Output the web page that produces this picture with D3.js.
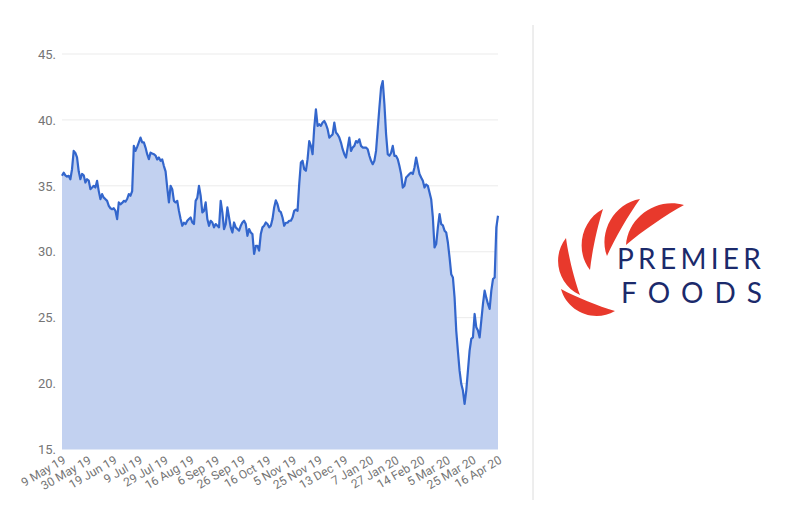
<!DOCTYPE html>
<html>
<head>
<meta charset="utf-8">
<script src="https://cdn.jsdelivr.net/npm/d3@7"></script>
<style>
  body { margin: 0; background: #fff; }
  svg { display: block; font-family: Roboto, "Noto Sans", sans-serif; }
</style>
</head>
<body>
<div class="container"></div>
<script>
// tick labels along the bottom (every 14th trading day)
var tickLabels = ["9 May 19", "30 May 19", "19 Jun 19", "9 Jul 19", "29 Jul 19", "16 Aug 19",
  "6 Sep 19", "26 Sep 19", "16 Oct 19", "5 Nov 19", "25 Nov 19", "13 Dec 19",
  "7 Jan 20", "27 Jan 20", "14 Feb 20", "5 Mar 20", "25 Mar 20", "16 Apr 20"];

var yTicks = [15, 20, 25, 30, 35, 40, 45];

// share price (pence), May 19 -> Apr 20
var price = [
  35.76, 36.0, 35.8, 35.7, 35.76, 35.5, 36.26, 37.65, 37.5, 37.15, 36.1, 35.5, 35.9, 35.8, 35.25,
  35.5, 35.4, 34.75, 34.87, 35.0, 34.87, 35.38, 34.6, 33.99, 34.37, 34.1, 33.99, 33.86, 33.48,
  33.3, 33.23, 33.3, 33.1, 32.48, 33.74, 33.6, 33.7, 33.86, 33.8, 34.0, 34.37, 34.25, 34.6,
  38.03, 37.65, 37.95, 38.3, 38.66, 38.3, 38.3, 37.9, 37.4, 37.02, 37.52, 37.45, 37.4, 37.3,
  37.0, 37.15, 36.9, 37.0, 36.5, 36.1, 34.87, 33.74, 35.0, 34.75, 33.86,
  33.74, 33.86, 33.1, 32.48, 31.97, 32.2, 32.1, 32.35, 32.48, 32.6, 32.22, 32.1, 33.86, 34.1,
  35.0, 34.25, 32.98, 33.1, 33.74, 32.48, 31.97, 32.35, 32.22, 31.85, 32.1, 31.97, 31.85, 33.86,
  32.98, 31.72, 32.1, 33.36, 32.6, 31.85, 31.46, 32.22, 31.85, 31.72, 31.6, 31.97, 32.22, 32.35,
  32.1, 31.21, 31.72, 31.46, 31.34, 29.83, 30.45, 30.45, 30.08, 31.34, 31.85, 31.97, 32.22, 32.1,
  31.85, 31.97, 32.48, 33.36, 33.9, 33.6,
  33.1, 33.0, 32.6, 31.97, 32.2, 32.2, 32.35, 32.35, 32.6, 33.1, 33.2, 33.1, 35.13, 36.77, 36.9,
  36.26, 36.14, 37.02, 38.4, 38.03, 37.4, 39.42, 40.8, 39.55, 39.67, 39.55, 39.8, 39.92, 39.67,
  39.3, 38.66, 38.78, 38.9, 39.8, 39.04, 38.9, 38.66, 38.28, 37.78, 37.4, 37.15, 37.9, 38.66,
  37.65, 37.9, 38.03, 38.4, 38.28, 38.53, 38.03, 37.9, 37.9, 37.9, 37.78, 37.28, 36.9, 36.64,
  36.9, 37.65, 39.3, 40.94, 42.45, 42.95, 41.2, 38.92, 37.4, 37.28,
  37.5, 38.03, 37.27, 37.27, 37.02, 36.5, 35.9, 34.87, 35.0, 35.63, 35.76, 35.9, 36.0, 35.9,
  36.39, 37.15, 36.5, 35.9, 35.63, 35.38, 34.87, 35.1, 35.0, 34.5, 33.99, 32.6, 30.33, 30.58,
  31.84, 32.86, 32.1, 32.0, 31.6, 31.46, 30.7, 29.57, 28.3, 28.05, 26.54, 24.02, 22.45, 20.98,
  19.98, 19.47, 18.46, 19.47, 20.98, 22.5, 23.39, 23.5, 25.28, 24.27, 24.02, 23.5, 24.77, 26.04,
  27.05, 26.5, 26.04, 25.66, 27.05, 27.93, 28.05, 31.84, 32.73
];

var width = 790;
var height = 527;
var plot = { left: 62, right: 498, top: 54, bottom: 449.5 };

var svg = d3.select("body").select(".container")
    .append("svg")
    .attr("width", width)
    .attr("height", height);

var x = d3.scaleLinear()
    .domain([0, price.length - 1])
    .range([plot.left, plot.right]);

var xTick = d3.scalePoint()
    .domain(tickLabels)
    .range([plot.left, plot.right]);

var y = d3.scaleLinear()
    .domain([15, 45])
    .range([plot.bottom, plot.top]);

// gridlines
svg.append("g")
    .selectAll("line")
    .data(yTicks.slice(1))
    .enter()
    .append("line")
    .attr("x1", plot.left)
    .attr("x2", plot.right)
    .attr("y1", function(d) { return y(d); })
    .attr("y2", function(d) { return y(d); })
    .attr("stroke", "#ebebeb")
    .attr("stroke-width", 1);

var area = d3.area()
    .x(function(d, i) { return x(i); })
    .y0(y(15))
    .y1(function(d) { return y(d); });

var line = d3.line()
    .x(function(d, i) { return x(i); })
    .y(function(d) { return y(d); });

svg.append("path")
    .datum(price)
    .attr("fill", "#c2d1f0")
    .attr("d", area);

svg.append("path")
    .datum(price)
    .attr("fill", "none")
    .attr("stroke", "#3366cc")
    .attr("stroke-width", 2.2)
    .attr("stroke-linejoin", "round")
    .attr("d", line);

// y axis labels
var yAxis = svg.append("g")
    .attr("transform", "translate(" + (plot.left - 6) + ",0)")
    .call(d3.axisLeft(y).tickValues(yTicks).tickSize(0).tickPadding(0)
        .tickFormat(function(d) { return d + "."; }));
yAxis.select(".domain").remove();
yAxis.selectAll("text")
    .attr("fill", "#757575")
    .style("font-size", "13px")
    .style("font-family", "Roboto, sans-serif");

// x axis labels, slanted
var xAxis = svg.append("g")
    .attr("transform", "translate(0," + plot.bottom + ")")
    .call(d3.axisBottom(xTick).tickSize(0));
xAxis.select(".domain").remove();
xAxis.selectAll("text")
    .attr("fill", "#757575")
    .style("font-size", "12px")
    .style("font-family", "Roboto, sans-serif")
    .style("text-anchor", "end")
    .attr("dy", null)
    .attr("y", 0)
    .attr("transform", "translate(4,13) rotate(-30)");

// divider
svg.append("line")
    .attr("x1", 533).attr("x2", 533)
    .attr("y1", 25).attr("y2", 500)
    .attr("stroke", "#dcdcdc")
    .attr("stroke-width", 1);

// logo: red petals + wordmark
function petal(x1, y1, x2, y2, w) {
    var dx = x2 - x1, dy = y2 - y1;
    var len = Math.sqrt(dx * dx + dy * dy);
    var ang = Math.atan2(dy, dx) * 180 / Math.PI;
    var p = "M0,0 C" + (len * 0.25) + "," + (-w) + " " + (len * 0.75) + "," + (-w) + " " + len + ",0 " +
        "C" + (len * 0.7) + "," + (-w * 0.1) + " " + (len * 0.3) + "," + (-w * 0.1) + " 0,0 Z";
    svg.append("path")
        .attr("d", p)
        .attr("fill", "#e8392c")
        .attr("transform", "translate(" + x1 + "," + y1 + ") rotate(" + ang + ")");
}
petal(626, 245, 684, 205, 22);
petal(607, 256, 640, 199, 20);
petal(590, 270, 603, 209, 19);
petal(580, 295, 566, 238, 19);
petal(615, 311, 561, 289, 19);

svg.append("text")
    .attr("x", 617).attr("y", 269)
    .attr("fill", "#1b2a6b")
    .style("font-family", "Lato, 'Open Sans', sans-serif")
    .style("font-size", "28px")
    .style("letter-spacing", "4.3px")
    .text("PREMIER");

svg.append("text")
    .attr("x", 621).attr("y", 303)
    .attr("fill", "#1b2a6b")
    .style("font-family", "Lato, 'Open Sans', sans-serif")
    .style("font-size", "28px")
    .style("letter-spacing", "11px")
    .text("FOODS");
</script>
</body>
</html>
